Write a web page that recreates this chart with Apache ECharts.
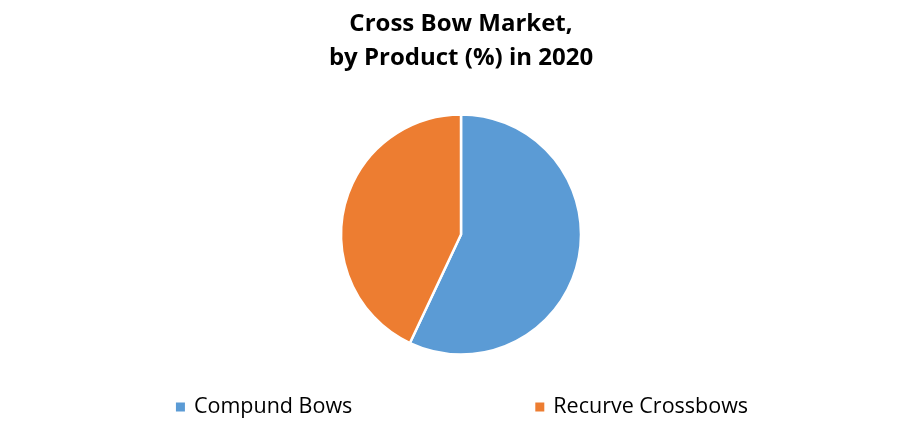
<!DOCTYPE html>
<html><head><meta charset="utf-8">
<script src="https://cdn.jsdelivr.net/npm/echarts@6/dist/echarts.min.js"></script>
<style>html,body{margin:0;padding:0;background:#fff}#c{width:922px;height:435px}</style>
</head><body><div id="c"></div>
<script>
const categories = ["Compund Bows", "Recurve Crossbows"];
const values = [57, 43];
const colors = ["#5B9BD5", "#ED7D31"];
const chart = echarts.init(document.getElementById('c'));
chart.setOption({
  animation: false,
  title: {
    text: "Cross Bow Market,\nby Product (%) in 2020",
    left: 'center', top: 2,
    textStyle: {fontFamily: 'Open Sans', fontWeight: 'bold', fontSize: 24, color: '#000', lineHeight: 34}
  },
  legend: {
    bottom: 12, left: 'center',
    itemWidth: 11, itemHeight: 11, itemGap: 181, icon: 'rect',
    textStyle: {fontFamily: 'Open Sans', fontSize: 21.5, color: '#000', padding: [0,0,0,3]},
    data: categories
  },
  series: [{
    type: 'pie',
    center: [461, 234.5],
    radius: 120,
    startAngle: 90,
    clockwise: true,
    label: {show: false},
    labelLine: {show: false},
    itemStyle: {borderColor: '#fff', borderWidth: 2.5},
    emphasis: {disabled: true},
    data: categories.map((c, i) => ({name: c, value: values[i], itemStyle: {color: colors[i]}}))
  }]
});
</script></body></html>
